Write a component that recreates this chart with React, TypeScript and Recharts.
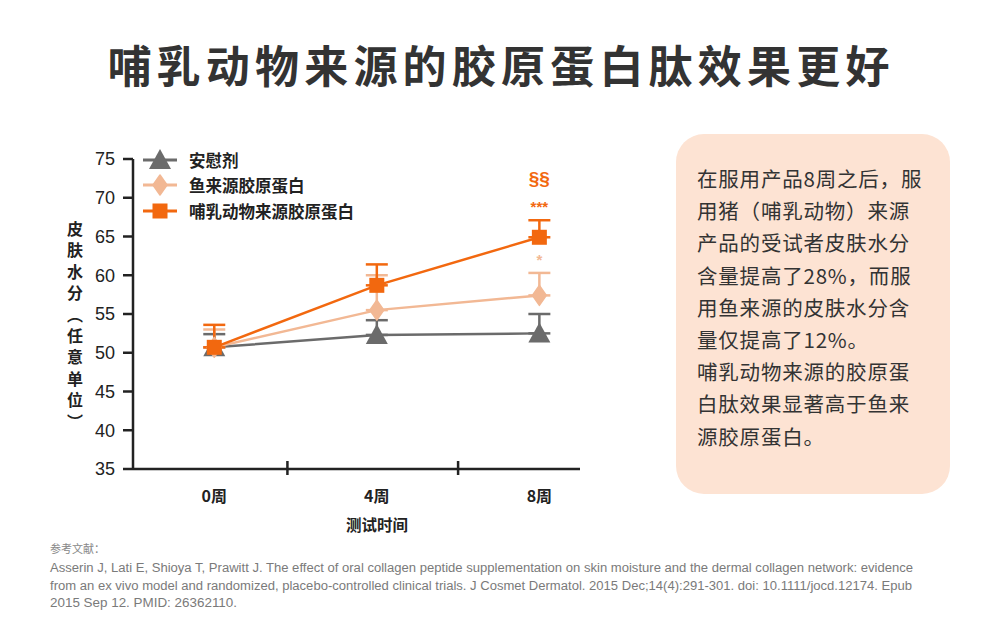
import React from 'react';
import { LineChart, Line, XAxis, YAxis, ErrorBar, Legend, ReferenceDot } from 'recharts';

const weeks = [0, 4, 8];
const weekLabels = ['0周', '4周', '8周'];
const dividerTicks = [1.8, 6];
const yTicks = [35, 40, 45, 50, 55, 60, 65, 70, 75];

const placebo = [50.7, 52.3, 52.5];
const placeboErr = [1.7, 1.9, 2.5];
const fish = [50.7, 55.5, 57.4];
const fishErr = [2.3, 4.5, 2.9];
const mammal = [50.7, 58.7, 64.9];
const mammalErr = [2.9, 2.7, 2.2];

const seriesNames = ['安慰剂', '鱼来源胶原蛋白', '哺乳动物来源胶原蛋白'];
const colors = ['#6b6b6b', '#f2b894', '#f2680f'];

const annoX = [8, 8, 8];
const annoY = [72.5, 68.8, 62.0];
const annoText = ['§§', '***', '*'];
const annoColor = ['#f2680f', '#f2680f', '#f2b894'];

const sideLines1 = ['在服用产品8周之后，服', '用猪（哺乳动物）来源', '产品的受试者皮肤水分', '含量提高了28%，而服', '用鱼来源的皮肤水分含', '量仅提高了12%。'];
const sideLines2 = ['哺乳动物来源的胶原蛋', '白肽效果显著高于鱼来', '源胶原蛋白。'];
const yLabelText = '皮肤水分（任意单位）';
const refLines = [
  'Asserin J, Lati E, Shioya T, Prawitt J. The effect of oral collagen peptide supplementation on skin moisture and the dermal collagen network: evidence',
  'from an ex vivo model and randomized, placebo-controlled clinical trials. J Cosmet Dermatol. 2015 Dec;14(4):291-301. doi: 10.1111/jocd.12174. Epub',
  '2015 Sep 12. PMID: 26362110.',
];
const refWidths = [863, 862, 187];

const data = weeks.map((w, i) => ({
  week: w,
  placebo: placebo[i],
  placeboErr: [0, placeboErr[i]],
  fish: fish[i],
  fishErr: [0, fishErr[i]],
  mammal: mammal[i],
  mammalErr: [0, mammalErr[i]],
}));

const FONT = '"Liberation Sans", "Noto Sans CJK SC", sans-serif';
const CJK = '"Noto Sans CJK SC", sans-serif';

const Triangle = ({ cx, cy, color }: any) => (
  <polygon points={`${cx},${cy - 11} ${cx - 11},${cy + 9} ${cx + 11},${cy + 9}`} fill={color} />
);
const Diamond = ({ cx, cy, color }: any) => (
  <polygon points={`${cx},${cy - 10} ${cx - 7},${cy} ${cx},${cy + 10} ${cx + 7},${cy}`} fill={color} stroke={color} strokeWidth={1.5} strokeLinejoin="round" />
);
const Square = ({ cx, cy, color }: any) => (
  <rect x={cx - 7.5} y={cy - 7.5} width={15} height={15} fill={color} />
);
const markers = [Triangle, Diamond, Square];

const makeDot = (idx: number) => (props: any) => {
  const M = markers[idx];
  if (props.cx == null || props.cy == null) return <g key={`e-${idx}-${props.index}`} />;
  return <M key={`d-${idx}-${props.index}`} cx={props.cx} cy={props.cy} color={colors[idx]} />;
};

const renderLegend = (props: any) => {
  const payload = [...(props.payload || [])].sort(
    (a: any, b: any) => seriesNames.indexOf(a.value) - seriesNames.indexOf(b.value)
  );
  return (
    <div style={{ display: 'flex', flexDirection: 'column' }}>
      {payload.map((entry: any) => {
        const i = seriesNames.indexOf(entry.value);
        const M = markers[i];
        return (
          <div key={entry.value} style={{ display: 'flex', alignItems: 'center', height: 25.5 }}>
            <svg width={40} height={24} style={{ display: 'block' }}>
              <line x1={2} y1={12} x2={36} y2={12} stroke={colors[i]} strokeWidth={3} />
              <M cx={19} cy={12} color={colors[i]} />
            </svg>
            <span style={{ marginLeft: 8, fontFamily: CJK, fontSize: 16.5, fontWeight: 700, color: '#222' }}>
              {entry.value}
            </span>
          </div>
        );
      })}
    </div>
  );
};

const XTick = (props: any) => {
  const { x, y, payload } = props;
  const idx = weeks.indexOf(payload.value);
  if (idx >= 0) {
    return (
      <text x={x} y={y + 26} textAnchor="middle" dominantBaseline="central" fontFamily={CJK} fontSize={16} fontWeight={700} fill="#222">
        {weekLabels[idx]}
      </text>
    );
  }
  return <line x1={x} y1={y - 8} x2={x} y2={y + 6} stroke="#222" strokeWidth={2.5} />;
};

const YLabel = () => (
  <text
    x={75}
    y={221}
    fontFamily={CJK}
    fontSize={16}
    fontWeight={700}
    fill="#222"
    letterSpacing={5.4}
    style={{ writingMode: 'vertical-rl' }}
  >
    {yLabelText}
  </text>
);

export default function App() {
  return (
    <div style={{ position: 'absolute', left: 0, top: 0, width: 1000, height: 640, background: '#fff', overflow: 'hidden' }}>
      <div style={{ position: 'absolute', left: -3, top: 36, width: 1000, textAlign: 'center', fontFamily: CJK, fontSize: 44, fontWeight: 700, color: '#333', letterSpacing: 5.2, lineHeight: '56px', paddingLeft: 4 }}>
        哺乳动物来源的胶原蛋白肽效果更好
      </div>

      <div style={{ position: 'absolute', left: 0, top: 0 }}>
        <LineChart width={1000} height={640} data={data} margin={{ top: 159, left: 73, right: 420, bottom: 111 }}>
          <XAxis
            dataKey="week"
            type="number"
            domain={[-2, 9]}
            ticks={[...weeks, ...dividerTicks]}
            interval={0}
            tickLine={false}
            tickSize={0}
            tickMargin={0}
            axisLine={{ stroke: '#222', strokeWidth: 2.5 }}
            tick={<XTick />}
            height={60}
            label={{
              content: () => (
                <text x={377} y={524} textAnchor="middle" dominantBaseline="central" fontFamily={CJK} fontSize={15.5} fontWeight={700} fill="#222">
                  测试时间
                </text>
              ),
            }}
          />
          <YAxis
            type="number"
            domain={[35, 75]}
            ticks={yTicks}
            interval={0}
            width={60}
            tickSize={10}
            tickMargin={8}
            axisLine={{ stroke: '#222', strokeWidth: 2.5 }}
            tickLine={{ stroke: '#222', strokeWidth: 2.5 }}
            tick={{ fill: '#222', fontSize: 18, fontFamily: FONT }}
            label={{ content: () => <YLabel /> }}
          />
          <Legend
            layout="horizontal"
            align="center"
            verticalAlign="middle"
            content={renderLegend}
            wrapperStyle={{ left: 141, top: 147, width: 280, height: 80 }}
          />
          <Line name={seriesNames[0]} dataKey="placebo" stroke={colors[0]} strokeWidth={2.5} dot={makeDot(0)} activeDot={false} isAnimationActive={false}>
            <ErrorBar dataKey="placeboErr" direction="y" width={11} stroke={colors[0]} strokeWidth={2.5} />
          </Line>
          <Line name={seriesNames[1]} dataKey="fish" stroke={colors[1]} strokeWidth={2.5} dot={makeDot(1)} activeDot={false} isAnimationActive={false}>
            <ErrorBar dataKey="fishErr" direction="y" width={11} stroke={colors[1]} strokeWidth={2.5} />
          </Line>
          <Line name={seriesNames[2]} dataKey="mammal" stroke={colors[2]} strokeWidth={2.5} dot={makeDot(2)} activeDot={false} isAnimationActive={false}>
            <ErrorBar dataKey="mammalErr" direction="y" width={11} stroke={colors[2]} strokeWidth={2.5} />
          </Line>
          {annoText.map((t, i) => (
            <ReferenceDot
              key={i}
              x={annoX[i]}
              y={annoY[i]}
              r={0}
              stroke="none"
              fill="none"
              ifOverflow="visible"
              label={{ value: t, position: 'center', fill: annoColor[i], fontSize: i === 0 ? 19 : 15, fontWeight: 700, fontFamily: FONT }}
            />
          ))}
        </LineChart>
      </div>

      <div style={{ position: 'absolute', left: 676, top: 134, width: 274, height: 360, background: '#fde3d3', borderRadius: 28, boxSizing: 'border-box', paddingLeft: 21, paddingTop: 28, fontFamily: CJK, fontSize: 20.5, color: '#333', lineHeight: '32.2px', letterSpacing: 0.8 }}>
        {sideLines1.map((l, i) => (
          <div key={`a${i}`} style={{ whiteSpace: 'nowrap' }}>{l}</div>
        ))}
        {sideLines2.map((l, i) => (
          <div key={`b${i}`} style={{ whiteSpace: 'nowrap' }}>{l}</div>
        ))}
      </div>

      <svg style={{ position: 'absolute', left: 0, top: 0 }} width={1000} height={640}>
        <text x={50} y={553} fontFamily={CJK} fontSize={11} fill="#888">参考文献：</text>
        {refLines.map((l, i) => (
          <text key={i} x={50} y={572 + i * 17.5} fontFamily={FONT} fontSize={12} fill="#7a7a7a" textLength={refWidths[i]} lengthAdjust="spacingAndGlyphs">
            {l}
          </text>
        ))}
      </svg>
    </div>
  );
}
